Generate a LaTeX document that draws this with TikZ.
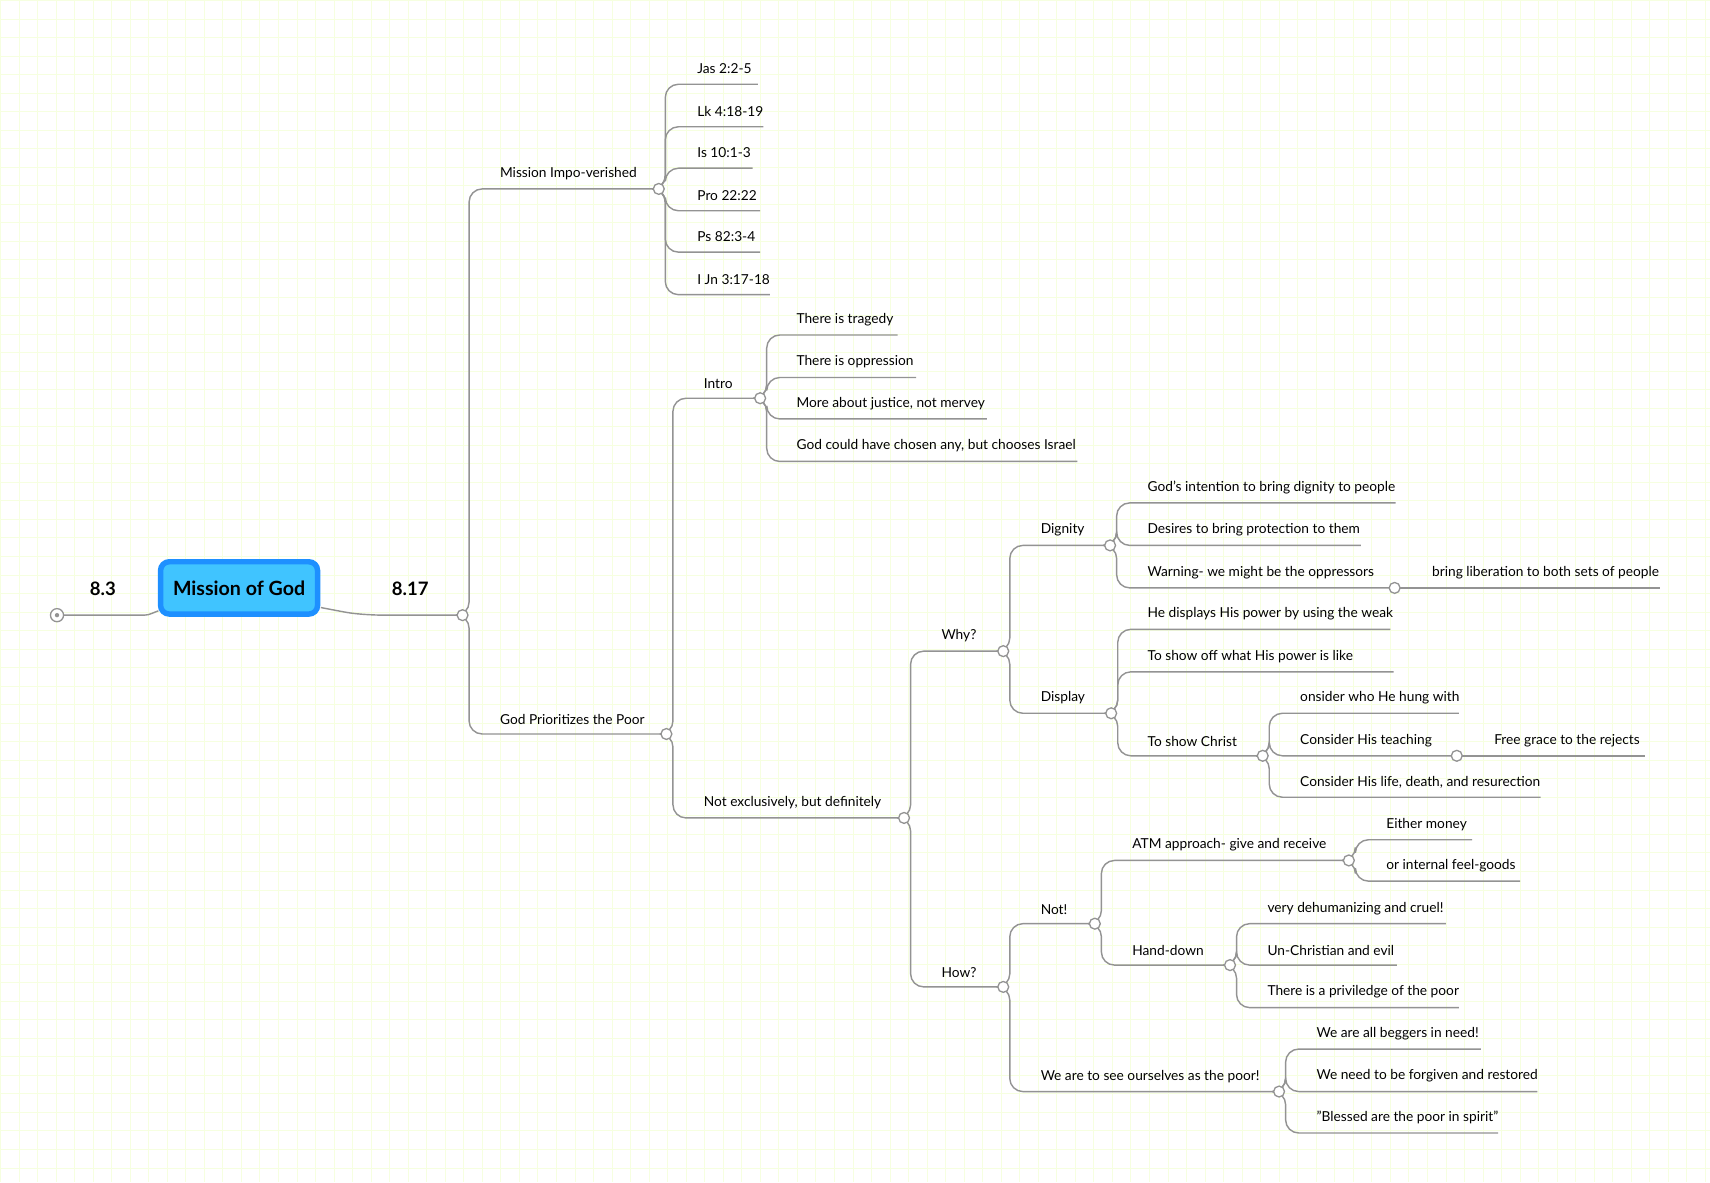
\documentclass[tikz,border=0pt]{standalone}
\usepackage{fontspec}
\setmainfont{Lato}
\begin{document}
\begin{tikzpicture}[x=0.5pt,y=-0.5pt,
  ln/.style={draw=gray!85,line width=0.65pt,rounded corners=6pt},
  knot/.style={circle,draw=gray!85,fill=white,line width=0.6pt,minimum size=5pt,inner sep=0pt},
  lbl/.style={anchor=south west,inner sep=0pt,font=\fontsize{6.3}{7.5}\selectfont}]
\fill[white] (0,0) rectangle (1568,1084);
\draw[green!30!yellow!12,line width=0.3pt] (0,0) grid[step=8.5pt] (1568,1084);
\useasboundingbox (0,0) rectangle (1568,1084);
\newcommand\br[4]{\draw[ln] (#1,#2) -- ({#1+6},#2) -- ({#1+6},#3) -- (#4,#3);}
% root
\draw[ln] (52,564) -- (120,564) .. controls (135,564) .. (145,560);
\draw[ln] (294,557) .. controls (320,562) .. (340,564) -- (424,564);
\node[draw=gray!85,circle,line width=0.6pt,minimum size=6pt,inner sep=0pt,fill=white] (start) at (52,564) {};
\fill[gray!85] (start) circle (1pt);
\node[draw={rgb,255:red,30;green,144;blue,255},fill={rgb,255:red,64;green,196;blue,255},line width=2.5pt,rounded corners=4pt,minimum width=72pt,minimum height=24pt,font=\fontsize{9}{10}\selectfont\bfseries] (root) at (219,539) {Mission of God};
\node[font=\fontsize{8.5}{10}\selectfont\bfseries] (l83) at (94,540) {8.3};
\node[font=\fontsize{8.5}{10}\selectfont\bfseries] (l817) at (376,540) {8.17};
% level 1
\br{424}{564}{173}{604}\br{424}{564}{673}{611}
% Mission children
\foreach \y/\e in {77/695,116/700,154/690,193/697,231/697,270/706}{\br{604}{173}{\y}{\e}}
% God prioritizes children
\br{611}{673}{365}{697}\br{611}{673}{750}{829}
\foreach \y/\e in {307/823,346/840,384/905,423/988}{\br{697}{365}{\y}{\e}}
\br{829}{750}{597}{920}\br{829}{750}{905}{920}
\br{920}{597}{500}{1018}\br{920}{597}{654}{1019}
\br{1018}{500}{461}{1280}\br{1018}{500}{500}{1248}\br{1018}{500}{539}{1279}
\draw[ln] (1279,539) -- (1522,539);
\br{1019}{654}{577}{1275}\br{1019}{654}{616}{1278}\br{1019}{654}{693}{1158}
\br{1158}{693}{654}{1338}\br{1158}{693}{693}{1336}\br{1158}{693}{731}{1413}
\draw[ln] (1336,693) -- (1509,693);
\br{920}{905}{847}{1004}\br{920}{905}{1001}{1173}
\br{1004}{847}{789}{1237}\br{1004}{847}{885}{1128}
\br{1237}{789}{770}{1350}\br{1237}{789}{808}{1394}
\br{1128}{885}{847}{1326}\br{1128}{885}{885}{1281}\br{1128}{885}{924}{1338}
\br{1173}{1001}{962}{1358}\br{1173}{1001}{1001}{1410}\br{1173}{1001}{1039}{1374}
% knots
\foreach \n/\x/\y in {k1/424/564,k2/604/173,k3/611/673,k4/697/365,k5/829/750,k6/920/597,k7/920/905,k8/1018/500,k9/1019/654,k10/1279/539,k11/1158/693,k12/1336/693,k13/1004/847,k14/1173/1001,k15/1237/789,k16/1128/885}{\node[knot] (\n) at (\x,\y) {};}
% labels
\foreach \n/\x/\y/\t in {
 a1/458/165/Mission Impo-verished, a2/458/665/God Prioritizes the Poor,
 b1/639/68/Jas 2:2-5, b2/639/107/Lk 4:18-19, b3/639/145/Is 10:1-3, b4/639/184/Pro 22:22, b5/639/222/Ps 82:3-4, b6/639/261/I Jn 3:17-18,
 c1/645/357/Intro, c2/645/742/{Not exclusively, but definitely},
 d1/730/299/There is tragedy, d2/730/338/There is oppression, d3/730/376/{More about justice, not mervey}, d4/730/415/{God could have chosen any, but chooses Israel},
 e1/863/589/Why?, e2/863/897/How?,
 f1/954/492/Dignity, f2/954/646/Display,
 g1/1052/453/God's intention to bring dignity to people, g2/1052/492/Desires to bring protection to them, g3/1052/531/Warning- we might be the oppressors,
 g4/1313/531/bring liberation to both sets of people,
 h1/1052/569/He displays His power by using the weak, h2/1052/608/To show off what His power is like, h3/1052/685/To show Christ,
 i1/1192/646/onsider who He hung with, i2/1192/685/Consider His teaching, i3/1192/723/{Consider His life, death, and resurection},
 i4/1370/685/Free grace to the rejects,
 j1/954/839/Not!, j2/954/993/We are to see ourselves as the poor!,
 k1/1038/781/ATM approach- give and receive, k2/1038/877/Hand-down,
 l1/1271/762/Either money, l2/1271/800/or internal feel-goods,
 m1/1162/839/very dehumanizing and cruel!, m2/1162/877/Un-Christian and evil, m3/1162/916/There is a priviledge of the poor,
 n1/1207/954/We are all beggers in need!, n2/1207/993/We need to be forgiven and restored, n3/1207/1031/"Blessed are the poor in spirit"}
 {\node[lbl] (t\n) at (\x,\y) {\t};}
\end{tikzpicture}
\end{document}
